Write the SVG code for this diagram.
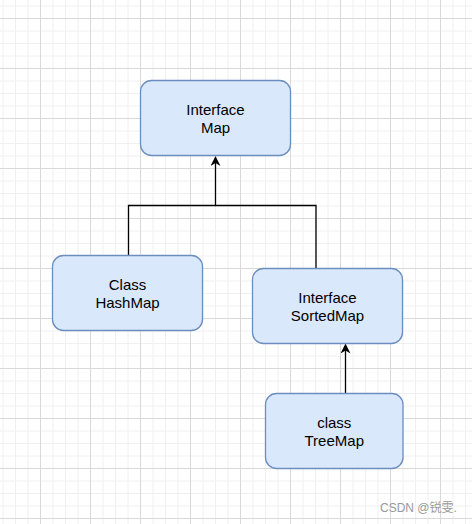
<svg xmlns="http://www.w3.org/2000/svg" width="472" height="524" viewBox="0 0 472 524">
  <style>
    .box { fill: #dae8fc; stroke: #6c8ebf; stroke-width: 1.3; }
    .lbl { font-family: "Liberation Sans", Arial, sans-serif; font-size: 15px; fill: #000; text-anchor: middle; }
    .edge { fill: none; stroke: #000; stroke-width: 1.3; }
    .wm { font-family: "Liberation Sans", "Noto Sans CJK SC", sans-serif; font-size: 12px; fill: #9a9a9a; }
  </style>
  <defs>
    <pattern id="grid" patternUnits="userSpaceOnUse" x="40" y="18" width="50" height="50">
      <path d="M13 0V50M25.5 0V50M38 0V50M0 13H50M0 25.5H50M0 38H50" stroke="#f0f0f0" stroke-width="1" fill="none"/>
      <path d="M0.5 0V50M0 0.5H50" stroke="#d9d9d9" stroke-width="1" fill="none"/>
    </pattern>
    <marker id="arr" viewBox="0 0 10 10" refX="7" refY="5" markerWidth="10" markerHeight="10" markerUnits="userSpaceOnUse" orient="auto">
      <path d="M0,0 L10,5 L0,10 L3,5 Z" fill="#000"/>
    </marker>
  </defs>
  <rect x="0" y="0" width="472" height="524" fill="#ffffff"/>
  <rect x="0" y="0" width="472" height="524" fill="url(#grid)"/>

  <g id="connectors">
    <path class="edge" d="M128.5 255.5V205.5H215.5V159" marker-end="url(#arr)"/>
    <path class="edge" d="M316 268.5V205.5H215.5"/>
    <path class="edge" d="M345.5 393.5V346.5" marker-end="url(#arr)"/>
  </g>

  <g id="node-map">
    <rect class="box" x="140.5" y="80.5" width="150" height="75" rx="11" ry="11"/>
    <text class="lbl" x="215.5" y="115">Interface</text>
    <text class="lbl" x="215.5" y="133">Map</text>
  </g>
  <g id="node-hashmap">
    <rect class="box" x="52.5" y="255.5" width="150" height="75" rx="11" ry="11"/>
    <text class="lbl" x="127.5" y="290">Class</text>
    <text class="lbl" x="127.5" y="308">HashMap</text>
  </g>
  <g id="node-sortedmap">
    <rect class="box" x="252.5" y="268.5" width="150" height="75" rx="11" ry="11"/>
    <text class="lbl" x="327.5" y="303">Interface</text>
    <text class="lbl" x="327.5" y="321">SortedMap</text>
  </g>
  <g id="node-treemap">
    <rect class="box" x="265.5" y="393.5" width="137.5" height="75" rx="11" ry="11"/>
    <text class="lbl" x="334.25" y="428">class</text>
    <text class="lbl" x="334.25" y="446">TreeMap</text>
  </g>

  <text class="wm" x="380" y="512">CSDN @锐雯.</text>
</svg>
